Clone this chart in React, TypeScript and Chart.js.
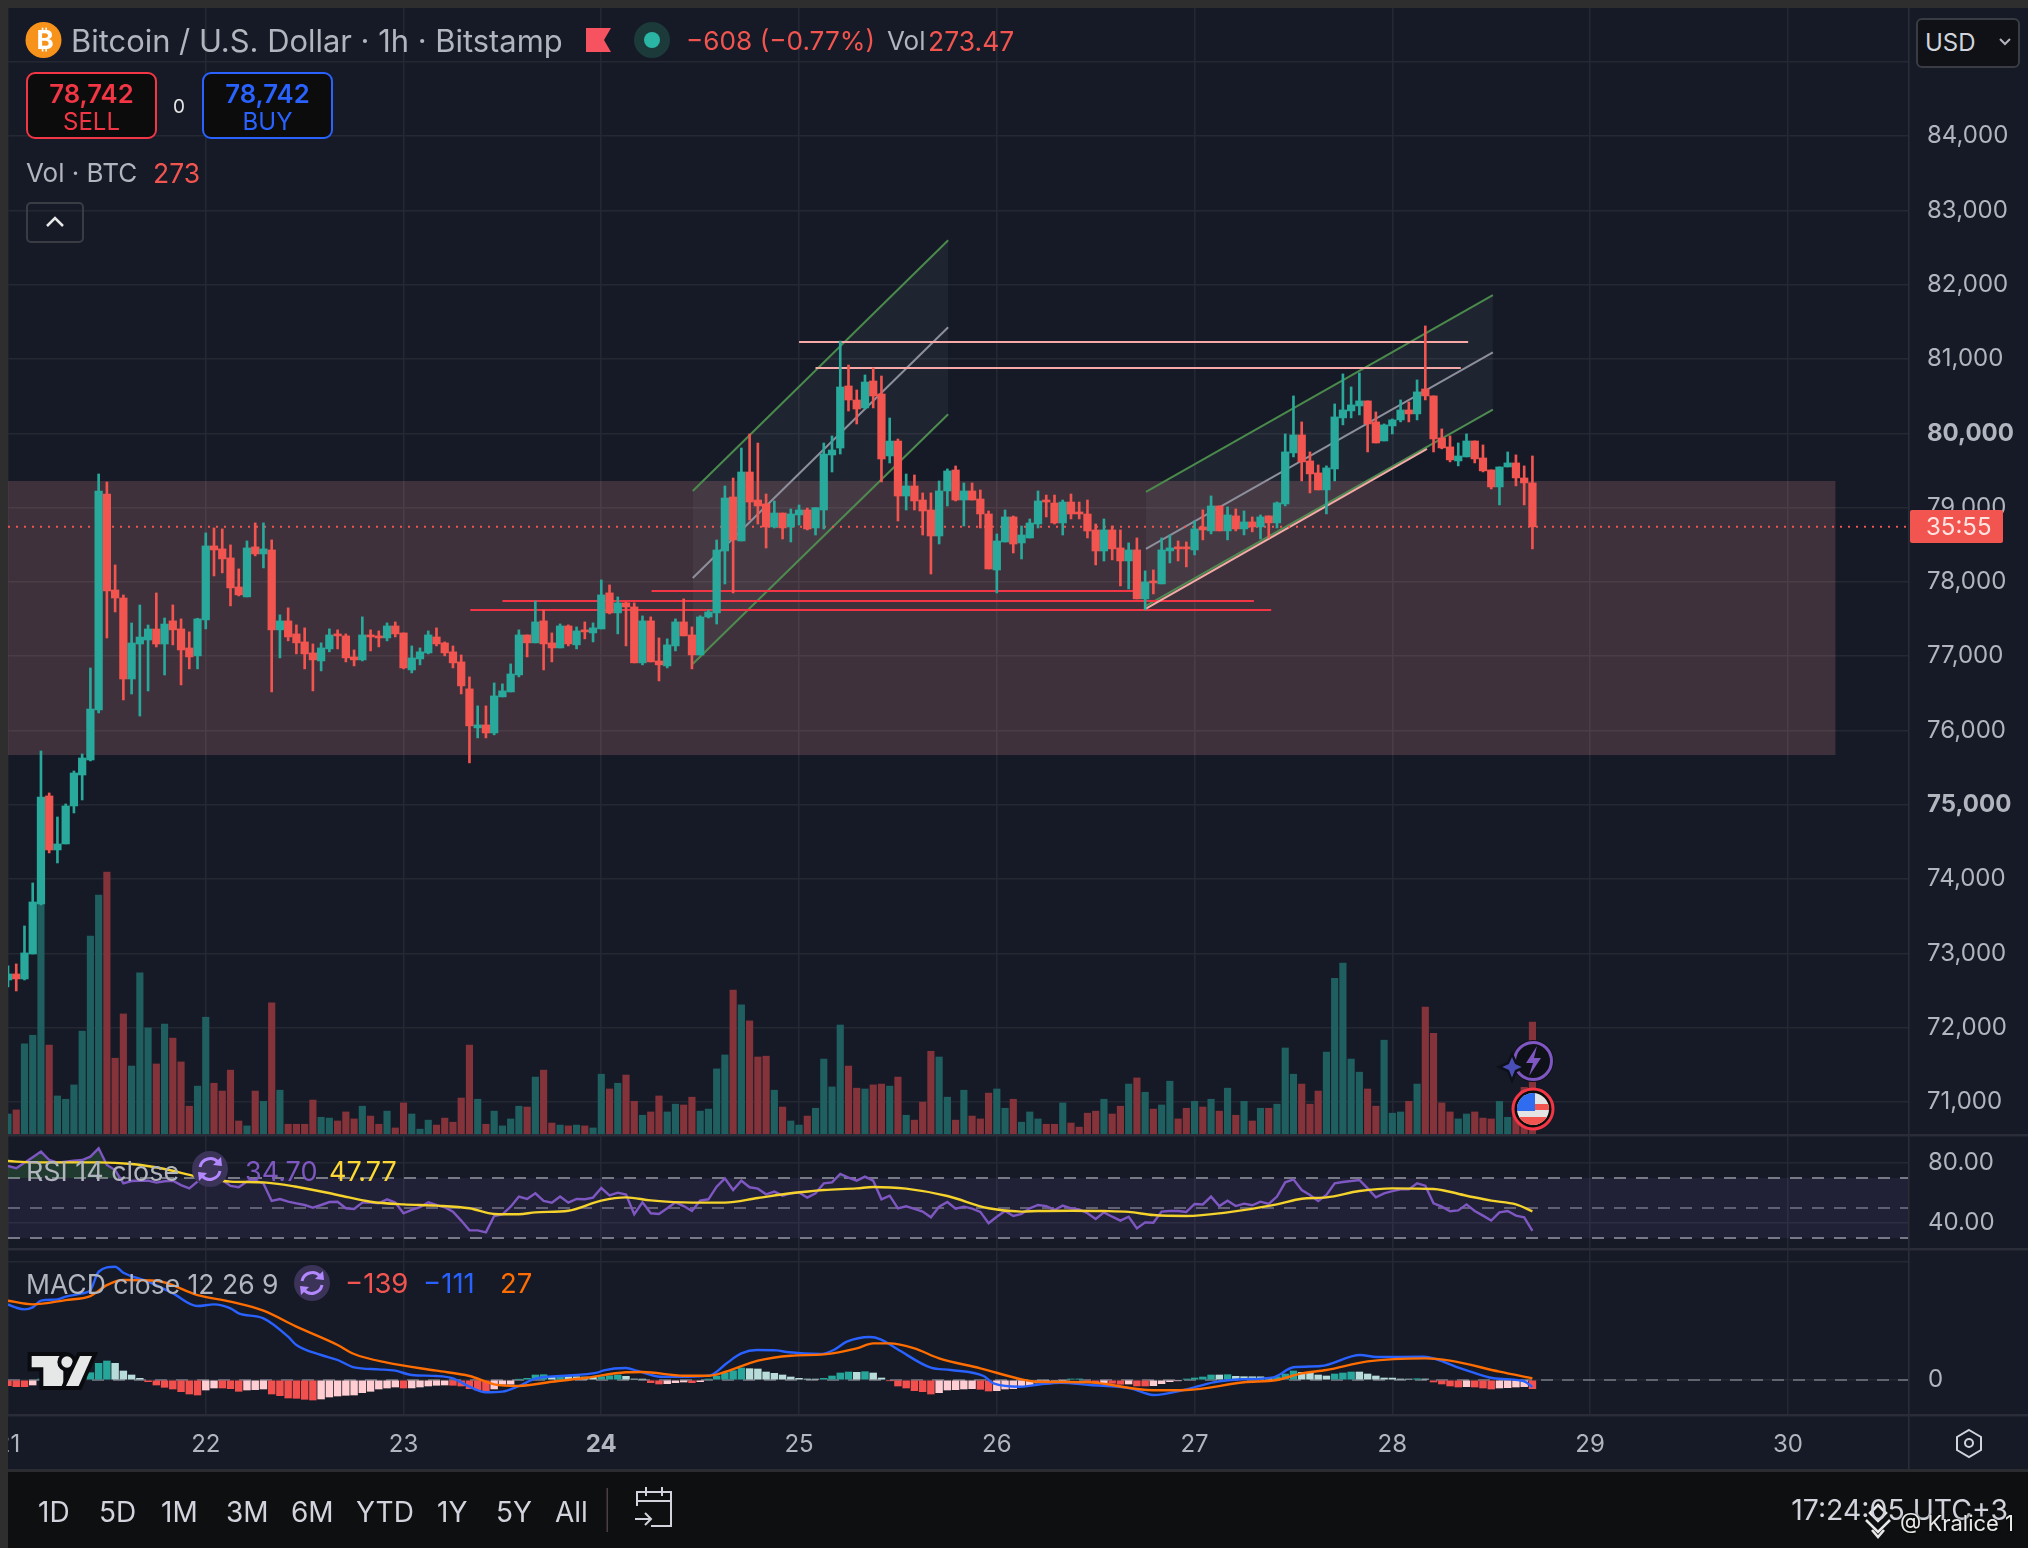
import React, { useEffect, useRef } from "react";
import { Chart, registerables } from "chart.js";

Chart.register(...registerables);

// ---------- hourly BTC/USD candles (index 0 = 21st 00:00) ----------
const opens = [72643,72724,72657,72993,73666,75120,74393,74474,74985,75402,75604,76277,79184,77892,77784,76694,77165,77219,77367,77165,
77476,77368,77112,77005,77489,78485,78445,78324,77933,77799,78472,78377,78431,77355,77476,77301,77193,77045,76937,77099,77301,77274,76991,76951,77287,77274,77247,77408,77314,76816,76964,77045,77260,77180,77059,76924,76561,76036,76076,75968,76453,76520,76749,77287,77180,77476,77180,77112,77408,77153,77355,77314,77368,77853,77583,77718,77664,76911,77476,76937,76870,77139,77462,77287,77017,77529,77583,78417,79144,78552,79480,79103,79050,78740,78928,78740,78902,78969,78727,78969,79709,79803,80638,80449,80342,80705,80530,79696,79897,79157,79292,79103,78969,78619,79225,79507,79103,79225,79117,78915,78161,78538,78875,78525,78592,78780,79103,79063,78794,79076,78942,78915,78700,78417,78700,78458,78283,78431,77772,78014,77974,78418,78472,78472,78431,78741,78687,79023,78687,78889,78714,78808,78741,78889,78795,79050,79737,79979,79629,79468,79239,79521,80208,80302,80369,80437,80154,79898,80100,80181,80315,80262,80598,80504,79939,79818,79629,79683,79898,79669,79508,79279,79548,79602,79400,79333];
const highs = [72832,72859,73370,73949,75725,75160,74837,75012,75456,75685,76842,79453,79345,78229,77825,77448,77690,77421,77852,77515,
77691,77503,77328,77512,78660,78727,78714,78499,78176,78552,78795,78795,78566,77557,77651,77422,77382,77166,77180,77368,77355,77301,77085,77530,77355,77341,77449,77462,77314,77139,77112,77341,77382,77193,77139,77018,76722,76332,76332,76641,76628,76897,77355,77287,77745,77624,77314,77435,77422,77395,77462,77449,78028,77960,77799,77731,77718,77543,77530,77247,77234,77503,77772,77395,77545,77623,78565,79292,79399,79803,79992,79870,79184,79090,78928,78982,79036,78995,79000,79870,79965,81243,80920,80584,80786,80880,80772,80207,79924,79453,79440,79198,79198,79359,79521,79561,79332,79332,79238,78955,78646,78969,78888,78753,78848,79225,79170,79170,79103,79184,79076,79103,78780,78848,78754,78700,78526,78593,78149,78162,78593,78633,78552,78539,78822,78970,79158,79023,79010,78983,78956,78875,78902,78889,79077,79992,80504,80154,79750,79575,79562,80396,80800,80625,80813,80437,80289,80127,80194,80450,80423,80719,81446,80504,80060,79966,79871,79992,79898,79844,79508,79548,79750,79710,79562,79696];
const lows = [72549,72495,72643,72993,73653,74353,74218,74474,74891,75066,75591,76237,77246,77596,76412,76492,76196,76533,77125,76748,
77153,76614,76830,76830,77368,78081,78122,77678,77812,77799,78351,78189,76520,76978,77207,77032,76830,76534,76803,77059,77099,76924,76870,76937,77072,77126,77207,77260,76830,76776,76884,77032,77139,77005,76843,76493,75565,75901,75901,75942,76453,76520,76722,76991,77180,76816,76924,77112,77139,77099,77234,77193,77368,77570,77301,77139,76911,76884,76924,76668,76843,77072,77274,76830,77017,77515,77434,77973,77852,78552,78834,78780,78457,78727,78579,78538,78767,78700,78632,78713,79480,79722,80301,80126,80328,80342,79346,79601,78821,78969,78969,78632,78107,78511,79023,79090,78753,79103,78727,78175,77852,78538,78390,78309,78592,78727,78875,78780,78632,78848,78848,78592,78229,78282,78297,77947,77906,77772,77624,77839,77974,78256,78283,78203,78364,78566,78647,78687,78566,78687,78633,78674,78579,78593,78727,79023,79683,79360,79198,79239,78916,79360,80114,80208,80248,79750,79871,79898,79992,80154,80154,80181,80450,79750,79791,79616,79562,79683,79602,79481,79252,79037,79548,79293,79037,78445];
const closes = [72724,72657,73007,73693,75106,74393,74474,74985,75429,75631,76290,79224,77879,77784,76694,77179,77259,77367,77165,77434,
77355,77085,76991,77503,78485,78431,78310,77920,77826,78458,78377,78445,77355,77476,77260,77180,77032,76951,77112,77287,77274,76978,76951,77287,77260,77247,77408,77301,76843,76978,77059,77287,77166,77045,76911,76601,76063,76076,75968,76466,76534,76762,77287,77180,77462,77166,77112,77408,77166,77341,77328,77382,77826,77583,77718,77664,76911,77476,76924,76884,77153,77462,77274,77018,77529,77596,78430,79130,78565,79480,79076,79023,78740,78928,78727,78915,78969,78713,79000,79722,79776,80624,80449,80328,80691,80503,79655,79897,79157,79292,79090,78955,78619,79225,79494,79103,79225,79103,78915,78175,78552,78875,78511,78632,78794,79090,79076,78794,79076,78915,78915,78686,78417,78700,78445,78283,78431,77772,78001,77987,78431,78458,78445,78445,78714,78700,79023,78687,78902,78714,78808,78741,78875,78795,79064,79750,79979,79616,79454,79239,79535,80221,80315,80383,80437,80127,79871,80114,80181,80315,80262,80558,80504,79925,79804,79643,79696,79898,79656,79495,79279,79548,79602,79400,79333,78742];
const volumes = [49,59,220,241,561,217,93,85,120,251,483,583,639,185,293,166,393,259,171,268,234,176,68,117,
285,124,105,156,32,20,105,80,320,107,24,24,24,83,41,39,32,54,37,68,44,24,56,15,
76,49,12,34,22,39,29,88,217,85,24,56,20,37,68,66,139,156,27,22,20,22,20,15,
146,110,124,144,80,46,54,93,54,73,71,90,56,61,159,193,351,315,276,188,190,107,66,32,
22,44,63,183,115,266,166,112,110,120,122,117,139,46,34,78,202,188,90,34,107,44,37,100,
110,63,85,29,54,37,24,24,76,27,17,51,56,85,49,68,122,137,102,61,71,129,37,63,
80,66,85,56,112,46,80,32,63,63,73,210,146,122,73,105,200,380,417,183,151,110,68,229,
51,54,80,122,310,246,76,54,37,49,54,39,37,80,41,49,114,273];

// ---------- tick labels ----------
const priceTicks = [85000,84000,83000,82000,81000,80000,79000,78000,77000,76000,75000,74000,73000,72000,71000];
const boldPrices = [80000,75000];
const dayLabels = ["21","22","23","24","25","26","27","28","29","30"];
const rsiTicks = [80,40];
const macdTicks = [0,1888];

// ---------- RSI(14) and its moving average ----------
const rsi = [78,76.5,80.2,83.8,87.6,82,80.2,80.9,81.6,82,84.2,89.8,78.7,75.3,66.4,68,68.2,68.2,66.9,67.8,68.2,65.3,63.1,67.6,70.5,69.8,68.7,64.7,63.8,67.6,68.2,66.4,54.7,56,54.2,53.1,52,50.2,52,54,54.2,49.8,49.4,53.6,53.6,53.1,55.8,53.6,46.5,48.7,50.5,53.8,52,50.5,47.6,41.6,35.1,35.1,33.8,44.7,45.8,50.9,57.6,
56,59.8,54.7,53.6,57.6,53.6,56,55.8,56.9,63.3,58.4,60.2,58.9,45.8,53.8,46.5,46,49.8,53.8,51.3,48,54.9,55.8,64.2,69.8,62,68.2,63.8,62.9,59.1,60.9,58.2,59.8,60.4,56.9,59.8,66.4,67.1,72.7,70.2,68.2,70.9,68.2,55.8,58.2,49.8,51.1,49.4,47.6,43.8,50.9,54,49.6,50.9,49.6,47.4,39.8,44.2,48,44.7,46,49.8,52,
51.3,48.7,51.6,49.8,49.1,46.5,42.7,47.1,44.2,41.6,44.2,36.4,40.4,40.2,47.6,48,48,47.4,52.7,52.4,57.6,51.3,54.9,51.3,52.9,51.8,54.2,52.7,57.6,67.1,69.1,62,58.7,54.7,58.7,66.4,67.3,68,68.7,63.1,57.1,59.8,61.3,62.4,62.4,66.4,64.9,53.1,50.9,47.8,48.4,52.4,48,44.9,41.6,47.1,48,44.9,43.8,34.7];
const rsiMaHours = [0,3,7,11,15,19,23,27,31,35,40,44,48,52,56,59,62,64,68,72,75,78,83,87,91,95,99,103,105,109,114,119,123,125,129,133,136,139,143,148,154,157,160,164,168,173,177,180,183,185];
const rsiMa = [81.3,80.4,80.4,80.4,79.3,76,70.9,67.6,67.1,64.2,58.7,54.2,52.4,51.6,49.8,46,45.8,47.1,48.2,54.9,57.1,55.1,53.6,53.6,56.7,59.8,62,63.1,64,62.9,58,49.8,47.6,48,48.2,48,47.4,45.3,44.7,47.1,52.4,56.2,57.1,61.3,63.1,62.7,58.2,54.9,52.4,47.77];

// ---------- MACD(12,26,9) ----------
const macdHours = [0,1,2,3,4,6,7,9,10,11,13,14,17,20,23,25,27,28,31,34,35,38,40,42,45,47,49,52,54,56,58,60,62,64,67,71.5,72.3,75,76.3,79.2,82.4,85.2,87.3,89,90.9,93.3,94.5,98.6,100.2,101.8,104.6,105.9,107.9,112,114.4,118.4,119.6,122.9,125.3,127.7,131.3,136.2,139,142.7,146.3,149.6,153.6,156,159.3,164.1,166.1,171.8,176.3,180.3,183.9,185];
const macdLine = [1210,1157,1130,1162,1269,1290,1333,1386,1439,1732,1813,1717,1573,1386,1183,1210,1146,1066,986,693,560,400,320,202,170,149,80,64,27,-107,-197,-186,-96,21,64,117,155,192,149,53,53,75,277,426,480,474,448,416,480,613,688,650,496,197,160,64,-53,-107,-69,-43,-80,-133,-240,-160,-37,11,43,203,224,400,368,373,187,27,-16,-111];
const signalHours = [0,3,7,10,12,14,18,23,27,31,35,40,42,46,52,56,59,62,66,70,75,77,82,85,87,91,95,99,103,105,107,110,113,118,123,125,131,139,143,150,154,157,160,165,172,175,181,185];
const signalLine = [1269,1210,1279,1343,1519,1599,1588,1359,1253,1109,853,560,416,277,149,64,-69,-96,-27,32,123,128,69,69,128,309,389,410,506,586,586,506,346,187,11,-27,-37,-165,-160,-37,0,107,160,298,346,309,133,27];
const macdHist = [-91,-107,-107,-80,16,27,43,53,69,96,117,267,304,267,144,80,27,-27,-80,-117,-144,-187,-224,-240,
-160,-128,-128,-139,-181,-160,-155,-144,-224,-251,-288,-293,-309,-320,-304,-272,-256,-245,-240,-203,-181,-144,-128,-112,
-128,-127,-112,-96,-85,-80,-85,-96,-139,-160,-176,-144,-69,-68,11,27,80,85,53,58,53,52,48,43,53,69,80,59,16,15,-43,-64,-59,-43,-32,-43,-27,16,64,117,149,192,181,176,128,107,80,48,27,16,15,27,64,112,128,123,133,112,32,-11,-96,-128,-171,-187,-224,-203,-160,-155,-144,-139,-149,-176,-171,-144,-139,-96,-91,-48,-40,-37,-21,16,17,-37,-48,-43,-53,-69,-64,-96,-96,-91,-59,-27,-11,16,32,48,80,80,85,59,53,52,51,37,53,96,144,123,117,80,64,96,112,128,128,96,64,32,31,16,15,21,16,-32,-64,-96,-112,-107,-112,-128,-144,-128,-123,-112,-107,-139];

// ---------- drawings on the chart: [from hour, to hour, price] ----------
const lastPrice = 78742;
const supplyZoneHours = [0, 221.8];
const supplyZonePrices = [79359, 75672];
const resistanceLines = [[96,177.2,81230],[98,176.3,80880]];
const supportLines = [[78.1,136.8,77879],[60,151.2,77744],[56.1,153.3,77622]];
// parallel channels: hours, then [start price, end price] for upper/middle/lower
const channelOneHours = [83.1,114.1];
const channelOneUpper = [79225,82599];
const channelOneMiddle = [78054,81428];
const channelOneLower = [76896,80257];
const channelTwoHours = [138.1,180.2];
const channelTwoUpper = [79211,81859];
const channelTwoMiddle = [78444,81091];
const channelTwoLower = [77677,80319];
const risingSupportHours = [138.1,172.2];
const risingSupportPrices = [77641,79790];

const UP = "#29a99b";
const DOWN = "#f2544f";
const VOL_UP = "#1f5f60";
const VOL_DOWN = "#85333a";
const BG = "#151a26";
const GRID = "#242833";
const FONT = "Inter, 'Noto Sans', sans-serif";
const TEXT = "#b2b5be";

const HOUR_MAX = 230.7;

const rightAxisBase = {
  position: "right" as const,
  border: { display: false },
  grid: { color: GRID, lineWidth: 1.6, drawTicks: false },
};

function zeroWidth(scale: any) {
  scale.width = 0;
  scale.paddingTop = 0;
  scale.paddingBottom = 0;
}

const chromePlugin = {
  id: "chrome",
  afterLayout(chart: any) {
    // the indicator axes take no layout room but share the price axis gutter
    for (const id of ["yRsi", "yMacd"]) {
      const s = chart.scales[id];
      s.left = chart.chartArea.right;
      s.right = 2028;
      s.width = 2028 - chart.chartArea.right;
    }
  },
  beforeDraw(chart: any) {
    const c = chart.ctx;
    c.save();
    c.fillStyle = BG;
    c.fillRect(0, 0, 2028, 1548);
    c.fillStyle = "#0e0f10";
    c.fillRect(0, 1471, 2028, 77);
    c.restore();
  },
  afterDraw(chart: any) {
    const c = chart.ctx;
    c.save();
    c.fillStyle = "#2e2e2e";
    c.fillRect(0, 0, 2028, 8);
    c.fillRect(0, 0, 8, 1548);
    c.fillStyle = "#2a2d37";
    c.fillRect(8, 1134, 2020, 2.5);
    c.fillRect(8, 1248, 2020, 2.5);
    c.fillRect(8, 1414, 2020, 2.5);
    c.fillStyle = "#2b2c30";
    c.fillRect(8, 1469, 2020, 3);
    c.fillStyle = "#2a2d37";
    c.fillRect(1908, 8, 1.6, 1461);
    c.restore();
  },
};

function segment(hours: number[], prices: number[], color: string, width: number, order: number, extra: any = {}) {
  return {
    type: "line" as const,
    xAxisID: "x",
    yAxisID: "yPrice",
    data: hours.map((h, i) => ({ x: h, y: prices[i] })),
    borderColor: color,
    borderWidth: width,
    pointRadius: 0,
    order,
    ...extra,
  };
}

function level(axis: string, value: number, extra: any = {}) {
  return {
    type: "line" as const,
    xAxisID: "x",
    yAxisID: axis,
    data: [{ x: 0, y: value }, { x: HOUR_MAX, y: value }],
    borderColor: "#787b86",
    borderWidth: 2,
    borderDash: [12, 10],
    pointRadius: 0,
    order: 12,
    ...extra,
  };
}

function ChartCanvas() {
  const ref = useRef<HTMLCanvasElement>(null);
  useEffect(() => {
    const idx = opens.map((_, i) => i);
    const candleColors = idx.map((i) => (closes[i] >= opens[i] ? UP : DOWN));
    const histColors = macdHist.map((v, i) => {
      const prev = i > 0 ? macdHist[i - 1] : v;
      if (v >= 0) return prev < v ? "#26a69a" : "#b8dcd9";
      return prev < v ? "#ffcdd2" : "#f2504f";
    });
    const chan = "rgba(205,210,230,0.055)";
    const chanGreen = "#4a8a4b";
    const chanMid = "#8a8b97";
    const datasets: any[] = [
      // supply zone
      segment(supplyZoneHours, [supplyZonePrices[0], supplyZonePrices[0]], "transparent", 0, 40, {
        fill: { value: supplyZonePrices[1] },
        backgroundColor: "rgba(232,146,147,0.2)",
      }),
      // channel one
      segment(channelOneHours, channelOneUpper, chanGreen, 2, 30, { fill: "+2", backgroundColor: chan }),
      segment(channelOneHours, channelOneMiddle, chanMid, 2, 30),
      segment(channelOneHours, channelOneLower, chanGreen, 2, 30),
      // channel two
      segment(channelTwoHours, channelTwoUpper, chanGreen, 2, 30, { fill: "+2", backgroundColor: chan }),
      segment(channelTwoHours, channelTwoMiddle, chanMid, 2, 30),
      segment(channelTwoHours, channelTwoLower, chanGreen, 2, 30),
      segment(risingSupportHours, risingSupportPrices, "#f5aaa8", 2, 29),
      ...resistanceLines.map((l) => segment([l[0], l[1]], [l[2], l[2]], "#f7a9a8", 2, 9)),
      ...supportLines.map((l) => segment([l[0], l[1]], [l[2], l[2]], "#f23645", 2, 29)),
      // last price
      segment([0, HOUR_MAX], [lastPrice, lastPrice], DOWN, 2, 28, { borderDash: [2, 6] }),
      // volume
      {
        type: "bar",
        xAxisID: "x",
        yAxisID: "yVolume",
        data: idx.map((i) => ({ x: i, y: volumes[i] })),
        backgroundColor: idx.map((i) => (closes[i] >= opens[i] ? VOL_UP : VOL_DOWN)),
        barThickness: 6.5,
        grouped: false,
        order: 35,
      },
      // wicks
      {
        type: "bar",
        xAxisID: "x",
        yAxisID: "yPrice",
        data: idx.map((i) => ({ x: i, y: [lows[i], highs[i]] })),
        backgroundColor: candleColors,
        barThickness: 2,
        grouped: false,
        order: 6,
      },
      // bodies
      {
        type: "bar",
        xAxisID: "x",
        yAxisID: "yPrice",
        data: idx.map((i) => ({ x: i, y: [opens[i], closes[i]] })),
        backgroundColor: candleColors,
        barThickness: 7.6,
        grouped: false,
        order: 5,
      },
      // RSI
      level("yRsi", 70, { fill: { value: 30 }, backgroundColor: "rgba(126,87,194,0.11)" }),
      level("yRsi", 50, { borderColor: "#5f616c" }),
      level("yRsi", 30),
      {
        type: "line",
        xAxisID: "x",
        yAxisID: "yRsi",
        data: rsi.map((v, i) => ({ x: i, y: v })),
        borderColor: "#7e57c2",
        borderWidth: 2.4,
        pointRadius: 0,
        order: 3,
        fill: { target: { value: 70 }, above: "rgba(76,175,80,0.22)", below: "transparent" },
      },
      {
        type: "line",
        xAxisID: "x",
        yAxisID: "yRsi",
        data: rsiMaHours.map((h, i) => ({ x: h, y: rsiMa[i] })),
        borderColor: "#f5d32c",
        borderWidth: 2.4,
        pointRadius: 0,
        cubicInterpolationMode: "monotone",
        order: 2,
      },
      // MACD
      level("yMacd", 0, { borderColor: "#62646f", borderDash: [12, 9] }),
      {
        type: "bar",
        xAxisID: "x",
        yAxisID: "yMacd",
        data: macdHist.map((v, i) => ({ x: i, y: v })),
        backgroundColor: histColors,
        barThickness: 6.8,
        grouped: false,
        order: 8,
      },
      {
        type: "line",
        xAxisID: "x",
        yAxisID: "yMacd",
        data: macdHours.map((h, i) => ({ x: h, y: macdLine[i] })),
        borderColor: "#2962ff",
        borderWidth: 2.4,
        pointRadius: 0,
        cubicInterpolationMode: "monotone",
        order: 4,
      },
      {
        type: "line",
        xAxisID: "x",
        yAxisID: "yMacd",
        data: signalHours.map((h, i) => ({ x: h, y: signalLine[i] })),
        borderColor: "#ff6d00",
        borderWidth: 2.4,
        pointRadius: 0,
        cubicInterpolationMode: "monotone",
        order: 3,
      },
    ];

    const tickFont = { family: FONT, size: 24 };
    const chart = new Chart(ref.current!, {
      type: "bar",
      data: { datasets },
      plugins: [chromePlugin],
      options: {
        animation: false,
        responsive: false,
        devicePixelRatio: 1,
        events: [],
        layout: { padding: { top: 8, left: 8, right: 0, bottom: 78 } },
        plugins: { legend: { display: false }, tooltip: { enabled: false } },
        scales: {
          x: {
            type: "linear",
            min: 0,
            max: HOUR_MAX,
            offset: false,
            border: { display: false },
            grid: { color: GRID, lineWidth: 1.6, drawTicks: false, offset: false },
            afterBuildTicks: (s: any) => {
              s.ticks = dayLabels.map((_, i) => ({ value: i * 24 }));
            },
            afterFit: (s: any) => {
              s.height = 55;
              s.paddingLeft = 0;
              s.paddingRight = 0;
            },
            ticks: {
              autoSkip: false,
              maxRotation: 0,
              minRotation: 0,
              padding: 15,
              color: TEXT,
              font: (ctx: any) => ({
                family: FONT,
                size: 24,
                weight: ctx.tick && ctx.tick.value === 72 ? "bold" : "normal",
              }),
              callback: (v: any) => dayLabels[Math.round(Number(v) / 24)] ?? "",
            },
          },
          yRsi: {
            ...rightAxisBase,
            weight: -3,
            min: -88,
            max: 850,
            afterBuildTicks: (s: any) => {
              s.ticks = rsiTicks.map((value) => ({ value }));
            },
            afterFit: zeroWidth,
            ticks: {
              padding: 19,
              color: TEXT,
              font: tickFont,
              autoSkip: false,
              callback: (v: any) => Number(v).toFixed(2),
            },
          },
          yMacd: {
            ...rightAxisBase,
            weight: -2,
            min: -560,
            max: 21952,
            afterBuildTicks: (s: any) => {
              s.ticks = macdTicks.map((value) => ({ value }));
            },
            afterFit: zeroWidth,
            ticks: {
              padding: 19,
              color: TEXT,
              font: tickFont,
              autoSkip: false,
              callback: (v: any) => (Number(v) === 0 ? "0" : ""),
            },
          },
          yVolume: {
            display: false,
            position: "right",
            weight: -1,
            min: -685,
            max: 2746,
          },
          yPrice: {
            ...rightAxisBase,
            weight: 0,
            min: 66788,
            max: 85725,
            afterBuildTicks: (s: any) => {
              s.ticks = priceTicks.map((value) => ({ value }));
            },
            afterFit: (s: any) => {
              s.width = 119;
              s.paddingTop = 0;
              s.paddingBottom = 0;
            },
            ticks: {
              padding: 18,
              color: TEXT,
              autoSkip: false,
              font: (ctx: any) => ({
                family: FONT,
                size: 24,
                weight: ctx.tick && boldPrices.includes(ctx.tick.value) ? "bold" : "normal",
              }),
              callback: (v: any) => (Number(v) === 85000 ? "" : Number(v).toLocaleString("en-US")),
            },
          },
        },
      } as any,
    } as any);
    return () => chart.destroy();
  }, []);
  return <canvas ref={ref} width={2028} height={1548} style={{ position: "absolute", left: 0, top: 0, width: 2028, height: 1548 }} />;
}

function T({ x, y, size = 24, color = TEXT, weight = 400, right, children, shadow, ls }: any) {
  return (
    <div
      style={{
        position: "absolute",
        left: right === undefined ? x : undefined,
        right: right,
        top: y,
        transform: "translateY(-50%)",
        fontFamily: FONT,
        fontSize: size,
        fontWeight: weight,
        color,
        whiteSpace: "nowrap",
        lineHeight: 1,
        textShadow: shadow,
        letterSpacing: ls,
      }}
    >
      {children}
    </div>
  );
}

function Box({ x, y, w, h, border, bg = "#0c0c0c", r = 9, bw = 2 }: any) {
  return (
    <div
      style={{
        position: "absolute",
        left: x,
        top: y,
        width: w,
        height: h,
        boxSizing: "border-box",
        border: `${bw}px solid ${border}`,
        background: bg,
        borderRadius: r,
      }}
    />
  );
}

function Sync({ cx, cy }: any) {
  return (
    <g transform={`translate(${cx} ${cy})`}>
      <circle r="18" fill="#3b3358" />
      <path d="M-10 -2 A10.5 10.5 0 0 1 8 -7" fill="none" stroke="#b388ff" strokeWidth="3" />
      <path d="M10 2 A10.5 10.5 0 0 1 -8 7" fill="none" stroke="#b388ff" strokeWidth="3" />
      <path d="M3 -4 L12 -3 L11 -12 Z" fill="#b388ff" />
      <path d="M-3 4 L-12 3 L-11 12 Z" fill="#b388ff" />
    </g>
  );
}

function Overlay() {
  return (
    <div style={{ position: "absolute", left: 0, top: 0, width: 2028, height: 1548, overflow: "hidden" }}>
      {/* currency button and price tag */}
      <div style={{ position: "absolute", left: 1916, top: 18, width: 104, height: 50, boxSizing: "border-box", border: "2px solid #3a3c44", borderRadius: 6, background: "#0f1117" }} />
      <T x={1925} y={43} size={24} color="#d1d4dc">USD</T>
      <div style={{ position: "absolute", left: 1910, top: 510, width: 93, height: 33, background: "#f2544f", borderRadius: 2 }} />
      <T x={1926} y={527} size={24} color="#ffe3e0">35:55</T>

      <svg width={2028} height={1548} style={{ position: "absolute", left: 0, top: 0 }}>
        {/* symbol, flag and market dot */}
        <circle cx="43.5" cy="40" r="18" fill="#f7931a" />
        <path d="M586 28 H611 L604 40 L611 52 H586 Z" fill="#f7525f" />
        <circle cx="652" cy="40" r="18" fill="#1d3a3a" />
        <circle cx="652" cy="40" r="8" fill="#2bb5a4" />
        {/* collapse chevron */}
        <path d="M47 226 L55 218 L63 226" fill="none" stroke="#e8e8e8" strokeWidth="2.5" />
        {/* usd chevron */}
        <path d="M2000 39 L2005 44 L2010 39" fill="none" stroke={TEXT} strokeWidth="2" />
        {/* legend sync icons */}
        <Sync cx={210} cy={1169} />
        <Sync cx={312} cy={1283} />
        {/* settings */}
        <path d="M1969 1430 L1981 1437 V1450 L1969 1457 L1957 1450 V1437 Z" fill="none" stroke="#d1d4dc" strokeWidth="2" />
        <circle cx="1969" cy="1443" r="4" fill="none" stroke="#d1d4dc" strokeWidth="2" />
        {/* events */}
        <circle cx="1533" cy="1061" r="21" fill="#0f1119" />
        <circle cx="1533" cy="1061" r="18.5" fill="none" stroke="#7e57c2" strokeWidth="3" />
        <path d="M1537 1046 L1526 1063 H1533 L1529 1076 L1541 1058 H1534 Z" fill="#7e57c2" />
        <path d="M1512 1054 L1516 1063 L1525 1067 L1516 1071 L1512 1081 L1508 1071 L1499 1067 L1508 1063 Z" fill="#4a4fb8" stroke="#0f1119" strokeWidth="2.5" />
        <circle cx="1533" cy="1109" r="21" fill="#0c0c0c" />
        <circle cx="1533" cy="1109" r="20" fill="none" stroke="#f23645" strokeWidth="3" />
        <clipPath id="flag"><circle cx="1533" cy="1109" r="16" /></clipPath>
        <g clipPath="url(#flag)">
          <rect x="1517" y="1093" width="32" height="32" fill="#e4e4e4" />
          <rect x="1517" y="1104" width="32" height="6" fill="#f2544f" />
          <rect x="1517" y="1117" width="32" height="8" fill="#f2544f" />
          <rect x="1517" y="1093" width="18" height="18" fill="#2f6cf0" />
        </g>
        {/* tradingview logo */}
        <g transform="translate(0 1150) scale(0.3333)" fill="#e6e8e8" stroke="#0a0b0e" strokeWidth="24" paintOrder="stroke" strokeLinejoin="miter">
          <path d="M95 618 H190 V708 H130 V652 H95 Z" />
          <circle cx="201" cy="636" r="17" />
          <path d="M240 618 H276 L236 708 H198 Z" />
        </g>
        {/* range bar */}
        <rect x="606.5" y="1488" width="1.5" height="44" fill="#4a3f43" />
        <path d="M637 1506 V1492 H671 V1526 H651 M637 1501 H671 M646 1487 V1496 M662 1487 V1496" fill="none" stroke="#d1d4dc" strokeWidth="2" />
        <path d="M635 1519 H651 M645 1513 L651 1519 L645 1525" fill="none" stroke="#d1d4dc" strokeWidth="2" />
        {/* watermark mark */}
        <g fill="none" stroke="#e8e8e8" strokeWidth="2.6">
          <path d="M1878 1505 L1886 1513 L1878 1521 L1870 1513 Z" />
          <path d="M1866 1520 L1878 1532 L1890 1520" />
          <path d="M1872 1530 L1878 1537 L1884 1530" />
        </g>
      </svg>

      <T x={36.5} y={40} size={26} color="#fff" weight={700}>₿</T>
      <T x={71} y={41} size={30.9}>Bitcoin / U.S. Dollar · 1h · Bitstamp</T>
      <T x={686} y={41} size={26.2} color={DOWN}>−608 (−0.77%)</T>
      <T x={887} y={41} size={26}>Vol</T>
      <T x={928} y={41} size={26.5} color={DOWN}>273.47</T>

      <Box x={26} y={72} w={131} h={67} border="#f23645" />
      <Box x={202} y={72} w={131} h={67} border="#2962ff" />
      <div style={{ position: "absolute", left: 26, width: 131, top: 93, transform: "translateY(-50%)", textAlign: "center", font: `600 25.7px ${FONT}`, color: "#f23645" }}>78,742</div>
      <div style={{ position: "absolute", left: 26, width: 131, top: 121, transform: "translateY(-50%)", textAlign: "center", font: `400 24px ${FONT}`, color: "#f23645" }}>SELL</div>
      <div style={{ position: "absolute", left: 202, width: 131, top: 93, transform: "translateY(-50%)", textAlign: "center", font: `600 25.7px ${FONT}`, color: "#2962ff" }}>78,742</div>
      <div style={{ position: "absolute", left: 202, width: 131, top: 121, transform: "translateY(-50%)", textAlign: "center", font: `400 24px ${FONT}`, color: "#2962ff" }}>BUY</div>
      <T x={173} y={106} size={19} color="#e6e6e6">0</T>

      <T x={26} y={173} size={26}>Vol · BTC</T>
      <T x={153} y={173} size={26.5} color={DOWN}>273</T>
      <div style={{ position: "absolute", left: 26, top: 202, width: 58, height: 41, boxSizing: "border-box", border: "2px solid #3a3c44", borderRadius: 5 }} />

      <T x={26} y={1171} size={26.9}>RSI 14 close</T>
      <T x={245} y={1171} size={27} color="#7e57c2">34.70</T>
      <T x={329} y={1171} size={27} color="#fdd835">47.77</T>

      <T x={26} y={1284} size={26.5}>MACD close 12 26 9</T>
      <T x={345} y={1284} size={27.5} color={DOWN}>−139</T>
      <T x={423} y={1284} size={27.5} color="#2962ff">−111</T>
      <T x={500} y={1284} size={27.5} color="#ff6d00">27</T>

      {/* range selector */}
      <T x={38} y={1512} size={28} color="#d1d4dc">1D</T>
      <T x={99} y={1512} size={28} color="#d1d4dc">5D</T>
      <T x={161} y={1512} size={28} color="#d1d4dc">1M</T>
      <T x={226} y={1512} size={28} color="#d1d4dc">3M</T>
      <T x={291} y={1512} size={28} color="#d1d4dc">6M</T>
      <T x={356} y={1512} size={28} color="#d1d4dc">YTD</T>
      <T x={437} y={1512} size={28} color="#d1d4dc">1Y</T>
      <T x={496} y={1512} size={28} color="#d1d4dc">5Y</T>
      <T x={555} y={1512} size={28} color="#d1d4dc">All</T>
      <T right={20} y={1510} size={28.4} color="#d1d4dc">17:24:05 UTC+3</T>
      <T x={1900} y={1523} size={22} color="#e8e8e8" shadow="0 0 3px #000">@ Kralice 1</T>
    </div>
  );
}

export default function App() {
  return (
    <div style={{ position: "fixed", left: 0, top: 0, width: 2028, height: 1548, overflow: "hidden", background: "#0e0f10" }}>
      <ChartCanvas />
      <Overlay />
    </div>
  );
}
